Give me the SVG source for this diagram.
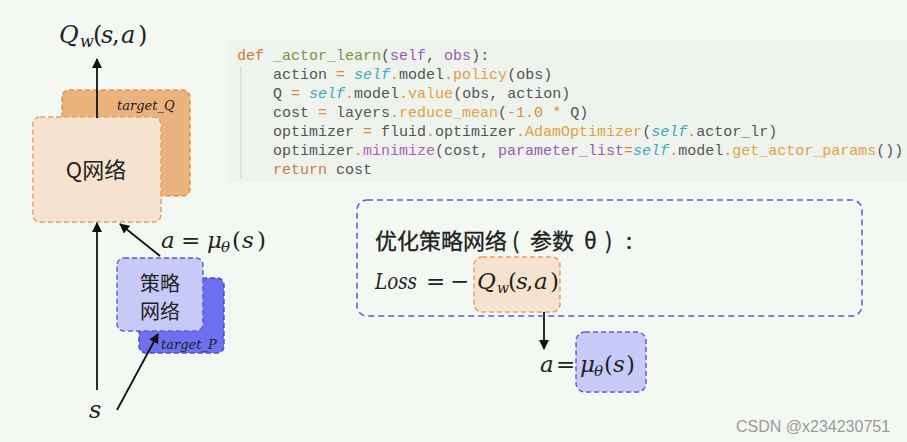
<svg xmlns="http://www.w3.org/2000/svg" width="907" height="442" viewBox="0 0 907 442">
<defs>
<marker id="ah" viewBox="0 0 10 10" refX="9" refY="5" markerWidth="10" markerHeight="10" markerUnits="userSpaceOnUse" orient="auto">
<path d="M0,0 L10,5 L0,10 z" fill="#111"/>
</marker>
<style>
.math{font-family:"DejaVu Serif","Liberation Serif",serif;font-style:italic;fill:#222}
.up{font-style:normal}
.cjk{font-family:"Noto Sans CJK SC","Noto Sans",sans-serif;fill:#222}
.code{font-family:"Liberation Mono","DejaVu Sans Mono",monospace;font-size:15px;fill:#555;white-space:pre}
.kw{fill:#cf7b3c}.fn{fill:#74983c}.pa{fill:#9a5cae}.op{fill:#e2893a}.sf{fill:#3fa6c6;font-style:italic}.me{fill:#e2a23e}.mg{fill:#b45cb6}
.conn{stroke:#111;stroke-width:1.8;fill:none;marker-end:url(#ah)}
.orA{fill:#eab27d;stroke:#d9955a;stroke-width:1.5;stroke-dasharray:5 3}
.orB{fill:#f5e3cf;stroke:#e2a06a;stroke-width:1.5;stroke-dasharray:5 3}
.blA{fill:#c7caf6;stroke:#5f60d2;stroke-width:1.5;stroke-dasharray:5 3}
.blB{fill:#6d70ef;stroke:#4a4cd6;stroke-width:1.5;stroke-dasharray:5 3}
</style>
</defs>
<rect width="907" height="442" fill="#f4f8f3"/>

<g id="code">
<rect x="228" y="40" width="679" height="142" fill="#eef3ee"/>
<line x1="241" y1="66" x2="241" y2="178" stroke="#cfd3cf" stroke-width="1"/>
<text class="code" x="237" y="60"><tspan class="kw">def</tspan> <tspan class="fn">_actor_learn</tspan>(<tspan class="pa">self</tspan>, <tspan class="pa">obs</tspan>):</text>
<text class="code" x="273" y="79">action <tspan class="op">=</tspan> <tspan class="sf">self</tspan><tspan class="op">.</tspan>model<tspan class="op">.</tspan><tspan class="me">policy</tspan>(obs)</text>
<text class="code" x="273" y="98">Q <tspan class="op">=</tspan> <tspan class="sf">self</tspan><tspan class="op">.</tspan>model<tspan class="op">.</tspan><tspan class="me">value</tspan>(obs, action)</text>
<text class="code" x="273" y="117">cost <tspan class="op">=</tspan> layers<tspan class="op">.</tspan><tspan class="me">reduce_mean</tspan>(<tspan class="op">-1.0</tspan> <tspan class="op">*</tspan> Q)</text>
<text class="code" x="273" y="136">optimizer <tspan class="op">=</tspan> fluid<tspan class="op">.</tspan>optimizer<tspan class="op">.</tspan><tspan class="me">AdamOptimizer</tspan>(<tspan class="sf">self</tspan><tspan class="op">.</tspan>actor_lr)</text>
<text class="code" x="273" y="155">optimizer<tspan class="op">.</tspan><tspan class="mg">minimize</tspan>(cost, <tspan class="pa">parameter_list</tspan><tspan class="op">=</tspan><tspan class="sf">self</tspan><tspan class="op">.</tspan>model<tspan class="op">.</tspan><tspan class="me">get_actor_params</tspan>())</text>
<text class="code" x="273" y="174"><tspan class="kw">return</tspan> cost</text>
</g>

<g id="target_Q">
<rect class="orA" x="62" y="90" width="128" height="106" rx="7"/>
<text class="math" x="117" y="110" font-size="13">target_Q</text>
</g>
<g id="Q_net">
<rect class="orB" x="33" y="117" width="128" height="105" rx="7"/>
<text class="cjk" x="96" y="178" font-size="22" text-anchor="middle">Q网络</text>
</g>
<g id="target_P">
<rect class="blB" x="139" y="278" width="85" height="75" rx="7"/>
<text class="math" x="161" y="349" font-size="13" fill="#1a1a3a">target_P</text>
</g>
<g id="policy_net">
<rect class="blA" x="117" y="258" width="86" height="73" rx="7"/>
<text class="cjk" x="160" y="291" font-size="20" text-anchor="middle">策略</text>
<text class="cjk" x="160" y="319" font-size="20" text-anchor="middle">网络</text>
</g>

<g id="labels-left">
<text class="math" font-size="24" y="43"><tspan x="59">Q</tspan><tspan x="80" y="47" font-size="16">w</tspan><tspan class="up" x="93" y="43">(</tspan><tspan x="101">s</tspan><tspan class="up" x="112">,</tspan><tspan x="121">a</tspan><tspan class="up" x="138">)</tspan></text>
<text class="math" font-size="23" y="248"><tspan x="161">a</tspan><tspan class="up" x="181">=</tspan><tspan x="207">μ</tspan><tspan x="221" y="252" font-size="15">θ</tspan><tspan class="up" x="232" y="248">(</tspan><tspan x="242">s</tspan><tspan class="up" x="257">)</tspan></text>
<text class="math" font-size="24" x="89" y="418">s</text>
</g>

<g id="connectors">
<line class="conn" x1="97" y1="118" x2="97" y2="59"/>
<line class="conn" x1="97" y1="390" x2="97" y2="223"/>
<line class="conn" x1="160" y1="256" x2="120" y2="224"/>
<line class="conn" x1="117" y1="410" x2="158" y2="334"/>
<line class="conn" x1="544" y1="298" x2="544" y2="349"/>
</g>

<g id="loss_box">
<rect x="357" y="200" width="505" height="116" rx="10" fill="none" stroke="#5a5ad2" stroke-width="1.5" stroke-dasharray="6 4"/>
<text class="cjk" font-size="22" y="249" fill="#1a1a1a" stroke="#1a1a1a" stroke-width="0.3"><tspan x="375">优化策略网络</tspan><tspan x="512">(</tspan><tspan x="530">参数</tspan><tspan x="584">θ</tspan><tspan x="605">)</tspan><tspan x="626">:</tspan></text>
<text class="math" font-size="23" x="375" y="289" textLength="42" lengthAdjust="spacingAndGlyphs">Loss</text>
<text class="math up" font-size="23" y="289"><tspan x="426">=</tspan><tspan x="450">−</tspan></text>
</g>
<g id="Q_term">
<rect class="orB" x="474" y="257" width="86" height="55" rx="8"/>
<text class="math" font-size="23" y="289"><tspan x="477">Q</tspan><tspan x="497" y="293" font-size="14">w</tspan><tspan class="up" x="508" y="289">(</tspan><tspan x="516">s</tspan><tspan class="up" x="526">,</tspan><tspan x="534">a</tspan><tspan class="up" x="550">)</tspan></text>
</g>
<g id="mu_term">
<text class="math" font-size="23" y="372"><tspan x="540">a</tspan><tspan class="up" x="556">=</tspan></text>
<rect class="blA" x="576" y="332" width="70" height="60" rx="9"/>
<text class="math" font-size="23" y="372"><tspan x="580">μ</tspan><tspan x="594" y="376" font-size="15">θ</tspan><tspan class="up" x="604" y="372">(</tspan><tspan x="613">s</tspan><tspan class="up" x="626">)</tspan></text>
</g>

<text x="736" y="432" font-family="Liberation Sans,Arial,sans-serif" font-size="16" fill="#9a9a9a">CSDN @x234230751</text>
</svg>
